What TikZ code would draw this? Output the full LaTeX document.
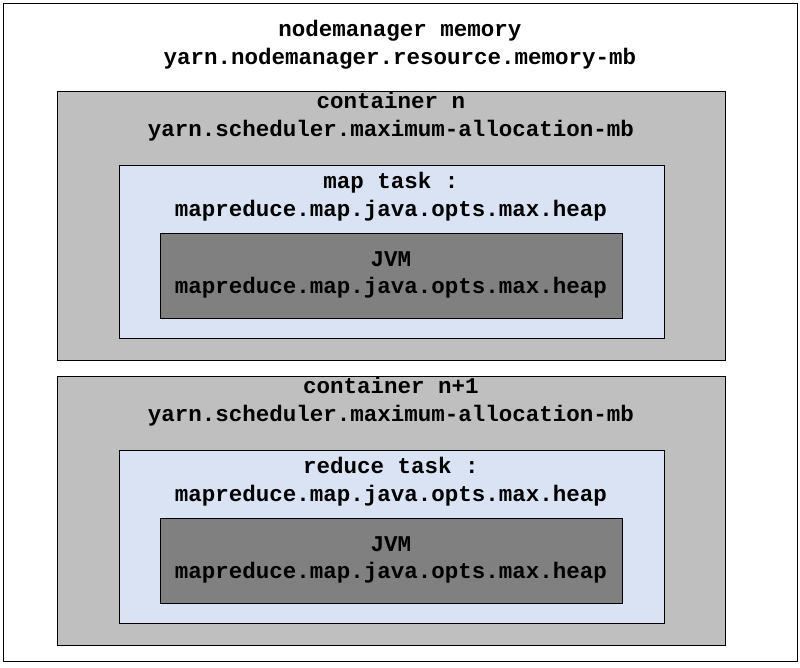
\documentclass[tikz,border=0pt]{standalone}
\usepackage{fontspec}
\setmonofont{Liberation Mono}
\begin{document}
\begin{tikzpicture}[x=1pt,y=-1pt,
  lbl/.style={font=\fontsize{22.5}{27.5}\selectfont\ttfamily\bfseries,align=center,anchor=north},
  cont/.style={draw=black,fill=black!25,line width=0.8pt},
  task/.style={draw=black,fill={rgb,255:red,218;green,227;blue,243},line width=0.8pt},
  jvm/.style={draw=black,fill=black!50,line width=0.8pt}]
\useasboundingbox (0,0) rectangle (800,667);
\draw[line width=0.8pt,fill=white] (3,3) rectangle (797,661);
\node[lbl] (t0) at (400,17) {nodemanager memory\\yarn.nodemanager.resource.memory-mb};
\foreach \dy/\nm/\tk in {0/container n/map task :, 285/container n+1/reduce task :}{
  \draw[cont] (57,91+\dy) rectangle (725,360+\dy);
  \node[lbl] at (391,89+\dy) {\nm\\yarn.scheduler.maximum-allocation-mb};
  \draw[task] (119,165+\dy) rectangle (664,338+\dy);
  \node[lbl] at (391,169+\dy) {\tk\\mapreduce.map.java.opts.max.heap};
  \draw[jvm] (160,233+\dy) rectangle (622,318+\dy);
  \node[lbl] at (391,248+\dy) {JVM\\mapreduce.map.java.opts.max.heap};
}
\end{tikzpicture}
\end{document}
